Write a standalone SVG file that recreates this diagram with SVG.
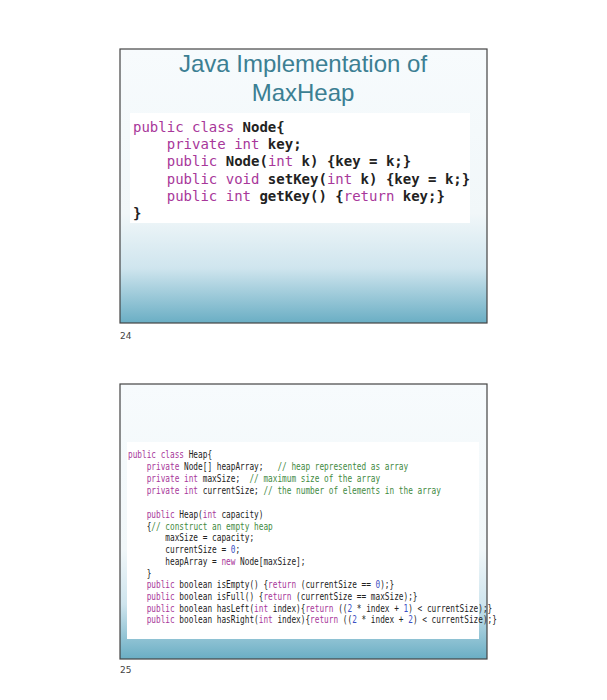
<svg xmlns="http://www.w3.org/2000/svg" width="607" height="700" viewBox="0 0 607 700">
<defs>
<linearGradient id="bg" x1="0" y1="0" x2="0" y2="1">
<stop offset="0" stop-color="#f7fbfd"/>
<stop offset="0.6" stop-color="#f1f7f9"/>
<stop offset="0.8" stop-color="#cfe5ee"/>
<stop offset="1" stop-color="#6aaec4"/>
</linearGradient>
</defs>
<style>
text{white-space:pre}
.frame{stroke:#444;stroke-width:1.2}
.title{font-family:"Liberation Sans",Arial,sans-serif;font-size:24px;fill:#3c7f93;text-anchor:middle}
.c1{font-family:"DejaVu Sans Mono",monospace;font-size:14px;font-weight:bold;fill:#222}
.c2{font-family:"DejaVu Sans Mono",monospace;font-size:10.5px;fill:#222}
.k{fill:#a8379a;font-weight:normal}
.g{fill:#3f8a3f;font-weight:normal}
.n{fill:#3b4fc4;font-weight:normal}
.pn{font-family:"DejaVu Sans",sans-serif;font-size:9px;fill:#444}
</style>
<rect width="607" height="700" fill="#fff"/>
<g id="slide24">
<rect x="120" y="49" width="367" height="274" fill="url(#bg)" class="frame"/>
<rect x="130" y="113" width="340" height="110" fill="#fff"/>
<text class="title" x="303" y="72">Java Implementation of</text>
<text class="title" x="303" y="101">MaxHeap</text>
<g class="c1">
<text x="133" y="132"><tspan class="k">public class</tspan> Node{</text>
<text x="133" y="149">    <tspan class="k">private int</tspan> key;</text>
<text x="133" y="166">    <tspan class="k">public</tspan> Node(<tspan class="k">int</tspan> k) {key = k;}</text>
<text x="133" y="184">    <tspan class="k">public void</tspan> setKey(<tspan class="k">int</tspan> k) {key = k;}</text>
<text x="133" y="201">    <tspan class="k">public int</tspan> getKey() {<tspan class="k">return</tspan> key;}</text>
<text x="133" y="218">}</text>
</g>
<text class="pn" x="120" y="339">24</text>
</g>
<g id="slide25">
<rect x="120" y="384" width="367" height="275" fill="url(#bg)" class="frame"/>
<rect x="127" y="442" width="352" height="197" fill="#fff"/>
<g class="c2" transform="translate(128,0) scale(0.74,1)">
<text x="0" y="458"><tspan class="k">public class</tspan> Heap{</text>
<text x="0" y="470">    <tspan class="k">private</tspan> Node[] heapArray;   <tspan class="g">// heap represented as array</tspan></text>
<text x="0" y="482">    <tspan class="k">private int</tspan> maxSize;  <tspan class="g">// maximum size of the array</tspan></text>
<text x="0" y="494">    <tspan class="k">private int</tspan> currentSize; <tspan class="g">// the number of elements in the array</tspan></text>
<text x="0" y="518">    <tspan class="k">public</tspan> Heap(<tspan class="k">int</tspan> capacity)</text>
<text x="0" y="530">    {<tspan class="g">// construct an empty heap</tspan></text>
<text x="0" y="541">        maxSize = capacity;</text>
<text x="0" y="553">        currentSize = <tspan class="n">0</tspan>;</text>
<text x="0" y="565">        heapArray = <tspan class="k">new</tspan> Node[maxSize];</text>
<text x="0" y="577">    }</text>
<text x="0" y="588">    <tspan class="k">public</tspan> boolean isEmpty() {<tspan class="k">return</tspan> (currentSize == <tspan class="n">0</tspan>);}</text>
<text x="0" y="600">    <tspan class="k">public</tspan> boolean isFull() {<tspan class="k">return</tspan> (currentSize == maxSize);}</text>
<text x="0" y="612">    <tspan class="k">public</tspan> boolean hasLeft(<tspan class="k">int</tspan> index){<tspan class="k">return</tspan> ((<tspan class="n">2</tspan> * index + <tspan class="n">1</tspan>) &lt; currentSize);}</text>
<text x="0" y="623">    <tspan class="k">public</tspan> boolean hasRight(<tspan class="k">int</tspan> index){<tspan class="k">return</tspan> ((<tspan class="n">2</tspan> * index + <tspan class="n">2</tspan>) &lt; currentSize);}</text>
</g>
<text class="pn" x="120" y="673">25</text>
</g>
</svg>
